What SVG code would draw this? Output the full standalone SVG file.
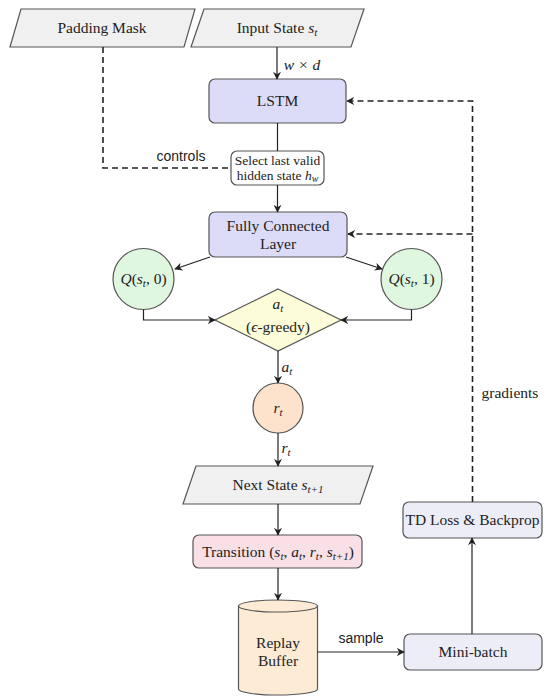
<svg xmlns="http://www.w3.org/2000/svg" width="550" height="700" viewBox="0 0 550 700">
<defs>
<marker id="ah" viewBox="0 0 10 10" refX="9" refY="5" markerWidth="8" markerHeight="8" markerUnits="userSpaceOnUse" orient="auto">
<path d="M0,0 L10,5 L0,10 L3,5 Z" fill="#222"/>
</marker>
<style>
text{font-family:"Liberation Serif","DejaVu Serif",serif;font-size:15.5px;fill:#222;text-anchor:middle}
.it{font-style:italic}
.sm{font-size:13.5px}
.sans{font-family:"Liberation Sans","DejaVu Sans",sans-serif;font-size:14px}
.para{fill:#f0f0f0;stroke:#555;stroke-width:1.2}
.blue{fill:#dcdcf8;stroke:#555;stroke-width:1.2}
.lav{fill:#ededf8;stroke:#555;stroke-width:1.2}
.white{fill:#fff;stroke:#555;stroke-width:1.2}
.green{fill:#dff6df;stroke:#555;stroke-width:1.2}
.yel{fill:#fdfcd8;stroke:#555;stroke-width:1.2}
.peach{fill:#fde3cc;stroke:#555;stroke-width:1.2}
.pink{fill:#f8e0e6;stroke:#555;stroke-width:1.2}
.cyl{fill:#fdebd6;stroke:#555;stroke-width:1.2}
.ln{fill:none;stroke:#222;stroke-width:1.2}
.dash{fill:none;stroke:#222;stroke-width:1.6;stroke-dasharray:6,4}
</style>
</defs>

<g id="padding-mask">
<polygon class="para" points="21,9 195,9 184,47 10,47"/>
<text x="102" y="33">Padding Mask</text>
</g>
<g id="input-state">
<polygon class="para" points="204,9 364,9 351,47 191,47"/>
<text x="277" y="33">Input State <tspan class="it">s</tspan><tspan class="it" font-size="11" dy="3">t</tspan></text>
</g>
<g id="lstm">
<rect class="blue" x="209" y="79" width="137" height="44" rx="6"/>
<text x="277.5" y="106">LSTM</text>
</g>
<g id="select">
<rect class="white" x="231" y="151" width="93" height="34" rx="6"/>
<text class="sm" x="277.5" y="165">Select last valid</text>
<text class="sm" x="277.5" y="180">hidden state <tspan class="it">h</tspan><tspan class="it" font-size="10" dy="2">w</tspan></text>
</g>
<g id="fc">
<rect class="blue" x="209" y="212" width="138" height="45" rx="6"/>
<text x="278" y="231">Fully Connected</text>
<text x="278" y="249">Layer</text>
</g>
<g id="q0">
<circle class="green" cx="143.5" cy="279" r="30.5"/>
<text x="143.5" y="284"><tspan class="it">Q</tspan>(<tspan class="it">s</tspan><tspan class="it" font-size="11" dy="3">t</tspan><tspan dy="-3">, 0)</tspan></text>
</g>
<g id="q1">
<circle class="green" cx="411.5" cy="279" r="30.5"/>
<text x="411.5" y="284"><tspan class="it">Q</tspan>(<tspan class="it">s</tspan><tspan class="it" font-size="11" dy="3">t</tspan><tspan dy="-3">, 1)</tspan></text>
</g>
<g id="decision">
<polygon class="yel" points="278,289 341,320 278,351 215,320"/>
<text class="it" x="278" y="309">a<tspan font-size="11" dy="3">t</tspan></text>
<text x="278" y="332">(<tspan class="it">ϵ</tspan>-greedy)</text>
</g>
<g id="reward">
<circle class="peach" cx="278" cy="408" r="25"/>
<text class="it" x="278" y="413">r<tspan font-size="11" dy="3">t</tspan></text>
</g>
<g id="next-state">
<polygon class="para" points="196,466 373,466 360,504 183,504"/>
<text x="278" y="490">Next State <tspan class="it">s</tspan><tspan class="it" font-size="11" dy="3">t+1</tspan></text>
</g>
<g id="transition">
<rect class="pink" x="193" y="535" width="169" height="33" rx="6"/>
<text x="278" y="557">Transition (<tspan class="it">s</tspan><tspan class="it" font-size="11" dy="3">t</tspan><tspan dy="-3">, </tspan><tspan class="it">a</tspan><tspan class="it" font-size="11" dy="3">t</tspan><tspan dy="-3">, </tspan><tspan class="it">r</tspan><tspan class="it" font-size="11" dy="3">t</tspan><tspan dy="-3">, </tspan><tspan class="it">s</tspan><tspan class="it" font-size="11" dy="3">t+1</tspan><tspan dy="-3">)</tspan></text>
</g>
<g id="replay-buffer">
<path class="cyl" d="M238.5,606 L238.5,689 A39.5,6 0 0 0 317.5,689 L317.5,606"/>
<ellipse class="cyl" cx="278" cy="606" rx="39.5" ry="6"/>
<text x="278" y="648">Replay</text>
<text x="278" y="666">Buffer</text>
</g>
<g id="mini-batch">
<rect class="lav" x="404" y="634" width="138" height="36" rx="6"/>
<text x="473" y="657">Mini-batch</text>
</g>
<g id="td-loss">
<rect class="lav" x="403" y="502" width="139" height="36" rx="6"/>
<text x="472.5" y="525">TD Loss &amp; Backprop</text>
</g>

<g id="connectors">
<line class="ln" x1="277" y1="47" x2="277" y2="79" marker-end="url(#ah)"/>
<text class="it" x="302" y="70">w × d</text>
<line class="ln" x1="277.5" y1="123" x2="277.5" y2="151"/>
<line class="ln" x1="277.5" y1="185" x2="277.5" y2="212" marker-end="url(#ah)"/>
<path class="dash" d="M103,47 L103,168 L231,168"/>
<text class="sans" x="181" y="161">controls</text>
<line class="ln" x1="210" y1="257" x2="175" y2="269" marker-end="url(#ah)"/>
<line class="ln" x1="346" y1="257" x2="382" y2="269" marker-end="url(#ah)"/>
<path class="ln" d="M143.5,309.5 L143.5,320 L215,320" marker-end="url(#ah)"/>
<path class="ln" d="M411.5,309.5 L411.5,320 L341,320" marker-end="url(#ah)"/>
<line class="ln" x1="278" y1="351" x2="278" y2="383" marker-end="url(#ah)"/>
<text class="it" x="287" y="372">a<tspan font-size="11" dy="3">t</tspan></text>
<line class="ln" x1="278" y1="433" x2="278" y2="466" marker-end="url(#ah)"/>
<text class="it" x="286" y="453">r<tspan font-size="11" dy="3">t</tspan></text>
<line class="ln" x1="278" y1="504" x2="278" y2="535" marker-end="url(#ah)"/>
<line class="ln" x1="278" y1="568" x2="278" y2="600" marker-end="url(#ah)"/>
<line class="ln" x1="317.5" y1="652" x2="404" y2="652" marker-end="url(#ah)"/>
<text class="sans" x="361" y="643">sample</text>
<line class="ln" x1="472" y1="634" x2="472" y2="538" marker-end="url(#ah)"/>
<path class="dash" d="M472.5,502 L472.5,101 L347,101" marker-end="url(#ah)"/>
<path class="dash" d="M472.5,234 L348,234" marker-end="url(#ah)"/>
<text x="510" y="398">gradients</text>
</g>
</svg>
